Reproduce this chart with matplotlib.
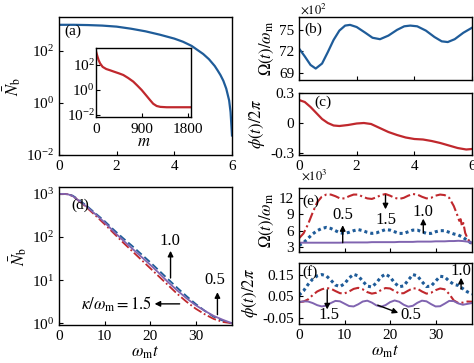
import numpy as np
import matplotlib
matplotlib.use("Agg")
import matplotlib.pyplot as plt
from matplotlib.ticker import FixedLocator, NullLocator, LogFormatterMathtext

plt.rcParams['font.family'] = ['Liberation Serif', 'DejaVu Serif']
plt.rcParams['mathtext.fontset'] = 'stix'
plt.rcParams['xtick.direction'] = 'in'
plt.rcParams['ytick.direction'] = 'in'
plt.rcParams['axes.linewidth'] = 1.0

BLUE = '#1f5c99'
RED = '#c0282d'
PURPLE = '#8064b0'

# ---------------- data ----------------
# (a) main
ta = [0, 0.5, 1, 1.5, 2, 2.5, 3, 3.5, 4, 4.3, 4.6, 5, 5.2, 5.4, 5.5, 5.6, 5.7, 5.8, 5.9, 5.95, 6.0]
logNa = [3.0, 3.0, 2.99, 2.97, 2.93, 2.85, 2.75, 2.62, 2.47, 2.35, 2.19, 1.88, 1.68, 1.42,
         1.25, 1.07, 0.85, 0.55, 0.1, -0.35, -1.25]
# (a) inset
m_in = [0, 20, 50, 80, 130, 200, 274, 350, 450, 535, 630, 730, 810, 894, 980, 1057, 1120,
        1188, 1260, 1383, 1600, 1860]
logN_in = [3.1, 2.8, 2.4, 2.13, 1.85, 1.68, 1.58, 1.47, 1.33, 1.2, 0.96, 0.67, 0.35, 0.0,
           -0.42, -0.8, -1.1, -1.28, -1.35, -1.38, -1.38, -1.38]
# (b)
tb = [0, 0.2, 0.4, 0.58, 0.8, 1.0, 1.2, 1.4, 1.6, 1.77, 2.0, 2.3, 2.55, 2.81, 3.1, 3.4, 3.65,
      3.86, 4.1, 4.4, 4.7, 4.95, 5.16, 5.4, 5.7, 6.0]
Omega_b = [72.4, 71.3, 70.1, 69.6, 70.3, 71.9, 73.6, 74.9, 75.6, 75.7, 75.4, 74.6, 73.9, 73.7,
           74.2, 75.0, 75.5, 75.6, 75.5, 74.9, 74.0, 73.4, 73.3, 73.7, 74.6, 75.3]
# (c)
tc = [0, 0.2, 0.4, 0.6, 0.8, 1.0, 1.2, 1.4, 1.7, 2.0, 2.25, 2.5, 2.8, 3.1, 3.4, 3.7, 4.0, 4.3,
      4.6, 4.9, 5.2, 5.5, 5.8, 6.0]
phi_c = [0.23, 0.21, 0.16, 0.10, 0.04, 0.0, -0.025, -0.03, -0.02, -0.005, 0.0, -0.01, -0.05,
         -0.09, -0.12, -0.145, -0.16, -0.165, -0.18, -0.2, -0.225, -0.25, -0.265, -0.26]
# (d)
td = [0, 1, 2, 3, 4, 5, 6, 8, 10, 12, 14, 16, 18, 20, 22, 24, 26, 28, 30, 32, 34, 36, 38]
logN_05 = [3.0, 3.0, 2.99, 2.95, 2.87, 2.79, 2.71, 2.53, 2.34, 2.13, 1.93, 1.74, 1.55, 1.36,
           1.16, 0.95, 0.76, 0.58, 0.42, 0.29, 0.17, 0.08, 0.0]
logN_10 = [3.0, 3.0, 2.99, 2.96, 2.89, 2.81, 2.73, 2.55, 2.37, 2.17, 1.98, 1.80, 1.61, 1.42,
           1.22, 1.02, 0.82, 0.63, 0.45, 0.29, 0.15, 0.06, 0.0]
logN_15 = [3.0, 3.0, 2.99, 2.95, 2.87, 2.78, 2.69, 2.50, 2.30, 2.09, 1.88, 1.68, 1.48, 1.28,
           1.08, 0.88, 0.68, 0.50, 0.34, 0.21, 0.10, 0.03, 0.0]
# (e)  values in units of 10^3
te = list(range(39))
Om_10 = [3.3, 3.8, 4.6, 5.4, 6.0, 6.4, 6.6, 6.4, 6.0, 5.6, 5.5, 5.7, 6.0, 6.2, 6.0, 5.7, 5.5,
         5.6, 5.9, 6.2, 6.1, 5.8, 5.5, 5.5, 5.8, 6.1, 6.1, 5.8, 5.5, 5.5, 5.8, 6.0, 6.0, 5.7,
         5.4, 5.2, 4.8, 4.2, 3.6]
Om_05 = [3.8, 3.8, 3.8, 3.8, 3.8, 3.8, 3.8, 3.8, 3.8, 3.8, 3.85, 3.85, 3.85, 3.85, 3.85, 3.85,
         3.9, 3.9, 3.9, 3.9, 3.9, 3.9, 3.95, 3.95, 3.95, 3.95, 4.0, 4.0, 4.0, 4.0, 4.05, 4.05,
         4.05, 4.1, 4.1, 4.15, 4.1, 4.0, 3.8]
te_15 = [0, 1, 2, 3, 4, 5, 6, 7, 8, 9, 10, 11, 12, 13, 14, 15, 16, 17, 18, 19, 20, 21, 22, 23,
         24, 25, 26, 27, 28, 29, 30, 31, 32, 33, 34, 34.7, 35.2, 35.5, 35.8, 36.1, 36.5, 37,
         37.5, 38]
Om_15 = [4.6, 5.5, 7.2, 9.3, 11.2, 12.2, 12.6, 12.6, 12.3, 11.9, 11.9, 12.3, 12.6, 12.6, 12.2,
         11.9, 11.8, 12.1, 12.5, 12.7, 12.4, 12.0, 11.8, 12.0, 12.4, 12.7, 12.6, 12.2, 11.9,
         12.0, 12.4, 12.6, 12.5, 12.0, 10.5, 9.0, 7.8, 8.1, 6.8, 7.4, 5.6, 4.6, 4.0, 3.6]
# (f)
tf = list(range(39))
phi_10 = [0.055, 0.075, 0.105, 0.13, 0.145, 0.151, 0.145, 0.125, 0.102, 0.095, 0.108, 0.135,
          0.152, 0.145, 0.12, 0.097, 0.093, 0.112, 0.14, 0.153, 0.14, 0.112, 0.094, 0.098,
          0.125, 0.151, 0.145, 0.118, 0.095, 0.097, 0.12, 0.143, 0.14, 0.12, 0.105, 0.1,
          0.085, 0.07, 0.06]
phi_15 = [0.022, 0.025, 0.035, 0.055, 0.072, 0.082, 0.088, 0.085, 0.074, 0.064, 0.063, 0.072,
          0.084, 0.089, 0.082, 0.069, 0.062, 0.066, 0.078, 0.088, 0.086, 0.074, 0.063, 0.064,
          0.076, 0.087, 0.085, 0.072, 0.062, 0.066, 0.078, 0.086, 0.082, 0.06, 0.03, 0.018,
          0.02, 0.025, 0.024]
phi_05 = [0.022, 0.026, 0.025, 0.018, 0.008, 0.002, 0.006, 0.018, 0.028, 0.026, 0.015, 0.004,
          0.002, 0.012, 0.025, 0.029, 0.02, 0.007, 0.001, 0.008, 0.022, 0.03, 0.024, 0.01,
          0.001, 0.005, 0.019, 0.029, 0.026, 0.013, 0.002, 0.003, 0.015, 0.028, 0.027, 0.016,
          0.01, 0.014, 0.018]

# ---------------- figure ----------------
W, H = 474, 363
fig = plt.figure(figsize=(W / 100, H / 100), dpi=100)


def add(l, t, r, b):
    return fig.add_axes([l / W, 1 - b / H, (r - l) / W, (b - t) / H])


FS = 11
LFS = 12


def style(ax):
    ax.tick_params(labelsize=FS, length=3, width=0.8, top=False, right=False)
    ax.yaxis.set_minor_locator(NullLocator())
    ax.xaxis.set_minor_locator(NullLocator())


ax_a = add(59, 17, 232, 155)
ax_in = add(96, 48, 191, 117)
ax_b = add(299, 17, 472, 80)
ax_c = add(299, 93, 472, 155)
ax_d = add(59, 187, 232, 325)
ax_e = add(299, 188, 472, 252)
ax_f = add(299, 263, 472, 324)

# (a)
ax_a.semilogy(ta, 10 ** np.array(logNa), color=BLUE, lw=1.6)
ax_a.set_xlim(0, 6)
ax_a.set_ylim(1e-2, 10 ** 3.3)
ax_a.yaxis.set_major_locator(FixedLocator([1e-2, 1, 1e2]))
ax_a.yaxis.set_major_formatter(LogFormatterMathtext())
ax_a.set_xticks([0, 2, 4, 6])
style(ax_a)
ax_a.set_ylabel(r'$\bar{N}_{\rm b}$', fontsize=LFS, labelpad=2)
ax_a.text(0.03, 0.9, '(a)', transform=ax_a.transAxes, fontsize=FS, va='center')

# inset
ax_in.semilogy(m_in, 10 ** np.array(logN_in), color=RED, lw=1.6)
ax_in.set_xlim(0, 1860)
ax_in.set_ylim(10 ** -2.16, 10 ** 3.36)
ax_in.yaxis.set_major_locator(FixedLocator([1e-2, 1, 1e2]))
ax_in.yaxis.set_major_formatter(LogFormatterMathtext())
ax_in.set_xticks([0, 900, 1800])
style(ax_in)
ax_in.tick_params(axis='y', pad=1)
ax_in.tick_params(axis='x', pad=4)
ax_in.set_xlabel(r'$m$', fontsize=LFS, labelpad=-1)

# (b)
ax_b.plot(tb, Omega_b, color=BLUE, lw=1.6)
ax_b.set_xlim(0, 6)
ax_b.set_ylim(68.0, 76.8)
ax_b.set_yticks([69, 72, 75])
ax_b.set_xticks([0, 2, 4, 6])
ax_b.set_xticklabels([])
style(ax_b)
ax_b.set_ylabel(r'$\Omega(t)/\omega_{\rm m}$', fontsize=LFS, labelpad=2)
ax_b.text(0.03, 0.8, '(b)', transform=ax_b.transAxes, fontsize=FS, va='center')
fig.text(300 / W, 1 - 9 / H, r'$\times10^{2}$', fontsize=9, va='center')

# (c)
ax_c.plot(tc, phi_c, color=RED, lw=1.6)
ax_c.set_xlim(0, 6)
ax_c.set_ylim(-0.32, 0.3)
ax_c.set_yticks([-0.3, 0, 0.3])
ax_c.set_yticklabels(['-0.3', '0', '0.3'])
ax_c.set_xticks([0, 2, 4, 6])
style(ax_c)
ax_c.set_ylabel(r'$\phi(t)/2\pi$', fontsize=LFS, labelpad=2)
ax_c.text(0.09, 0.85, '(c)', transform=ax_c.transAxes, fontsize=FS, va='center')

# (d)
ax_d.semilogy(td, 10 ** np.array(logN_10), color=BLUE, lw=1.3, ls=(0, (4, 2)))
ax_d.semilogy(td, 10 ** np.array(logN_15), color=RED, lw=1.3, ls=(0, (5, 1.5, 1, 1.5)))
ax_d.semilogy(td, 10 ** np.array(logN_05), color=PURPLE, lw=1.3)
ax_d.set_xlim(0, 38)
ax_d.set_ylim(10 ** -0.04, 10 ** 3.16)
ax_d.yaxis.set_major_locator(FixedLocator([1, 10, 100, 1000]))
ax_d.yaxis.set_major_formatter(LogFormatterMathtext())
ax_d.set_xticks([0, 10, 20, 30])
style(ax_d)
ax_d.set_ylabel(r'$\bar{N}_{\rm b}$', fontsize=LFS, labelpad=2)
ax_d.set_xlabel(r'$\omega_{\rm m}t$', fontsize=LFS, labelpad=1)
ax_d.text(0.07, 0.87, '(d)', transform=ax_d.transAxes, fontsize=FS, va='center')
arw = dict(arrowstyle='-|>', color='k', lw=1.0, mutation_scale=8, shrinkA=0, shrinkB=0)
ax_d.annotate('', xy=(24.5, 10 ** 1.68), xytext=(24.5, 10 ** 1.05), arrowprops=arw)
ax_d.text(24.3, 10 ** 1.9, '1.0', fontsize=LFS, ha='center', va='center')
ax_d.annotate('', xy=(34.8, 10 ** 0.72), xytext=(34.8, 10 ** 0.2), arrowprops=arw)
ax_d.text(34.3, 10 ** 1.0, '0.5', fontsize=LFS, ha='center', va='center')
ax_d.annotate('', xy=(21.0, 10 ** 0.45), xytext=(26.5, 10 ** 0.45), arrowprops=arw)
ax_d.text(20.4, 10 ** 0.45, r'$\kappa/\omega_{\rm m}=1.5$', fontsize=LFS, ha='right', va='center')

# (e)
ax_e.plot(te_15, Om_15, color=RED, lw=1.5, ls=(0, (5, 1.5, 1, 1.5)))
ax_e.plot(te, Om_10, color=BLUE, lw=2.2, ls=(0, (1, 1)))
ax_e.plot(te, Om_05, color=PURPLE, lw=1.4)
ax_e.set_xlim(0, 38)
ax_e.set_ylim(2.1, 13.8)
ax_e.set_yticks([3, 6, 9, 12])
ax_e.set_xticks([0, 10, 20, 30])
ax_e.set_xticklabels([])
style(ax_e)
ax_e.set_ylabel(r'$\Omega(t)/\omega_{\rm m}$', fontsize=LFS, labelpad=2)
ax_e.text(0.02, 0.8, '(e)', transform=ax_e.transAxes, fontsize=FS, va='center')
fig.text(301 / W, 1 - 175 / H, r'$\times10^{3}$', fontsize=9, va='center')
ax_e.annotate('', xy=(9.6, 7.0), xytext=(9.6, 3.8), arrowprops=arw)
ax_e.text(9.6, 8.9, '0.5', fontsize=LFS, ha='center', va='center')
ax_e.annotate('', xy=(19.0, 9.9), xytext=(19.0, 12.5), arrowprops=arw)
ax_e.text(19.0, 7.9, '1.5', fontsize=LFS, ha='center', va='center')
ax_e.annotate('', xy=(27.3, 8.2), xytext=(27.3, 5.6), arrowprops=arw)
ax_e.text(27.3, 9.4, '1.0', fontsize=LFS, ha='center', va='center')

# (f)
ax_f.plot(tf, phi_15, color=RED, lw=1.5, ls=(0, (5, 1.5, 1, 1.5)))
ax_f.plot(tf, phi_10, color=BLUE, lw=2.2, ls=(0, (1, 1)))
ax_f.plot(tf, phi_05, color=PURPLE, lw=1.4)
ax_f.set_xlim(0, 38)
ax_f.set_ylim(-0.08, 0.205)
ax_f.set_yticks([-0.05, 0.05, 0.15])
ax_f.set_yticklabels(['-0.05', '0.05', '0.15'])
ax_f.set_xticks([0, 10, 20, 30])
style(ax_f)
ax_f.set_ylabel(r'$\phi(t)/2\pi$', fontsize=LFS, labelpad=2)
ax_f.set_xlabel(r'$\omega_{\rm m}t$', fontsize=LFS, labelpad=1)
ax_f.text(0.02, 0.85, '(f)', transform=ax_f.transAxes, fontsize=FS, va='center')
ax_f.annotate('', xy=(35.6, 0.136), xytext=(35.6, 0.083), arrowprops=arw)
ax_f.text(35.5, 0.168, '1.0', fontsize=LFS, ha='center', va='center')
ax_f.annotate('', xy=(6.2, -0.012), xytext=(6.2, 0.08), arrowprops=arw)
ax_f.text(6.6, -0.04, '1.5', fontsize=LFS, ha='center', va='center')
ax_f.annotate('', xy=(21.8, -0.028), xytext=(17.3, 0.008), arrowprops=arw)
ax_f.text(24.5, -0.037, '0.5', fontsize=LFS, ha='center', va='center')

fig.savefig('out.png', dpi=100)
